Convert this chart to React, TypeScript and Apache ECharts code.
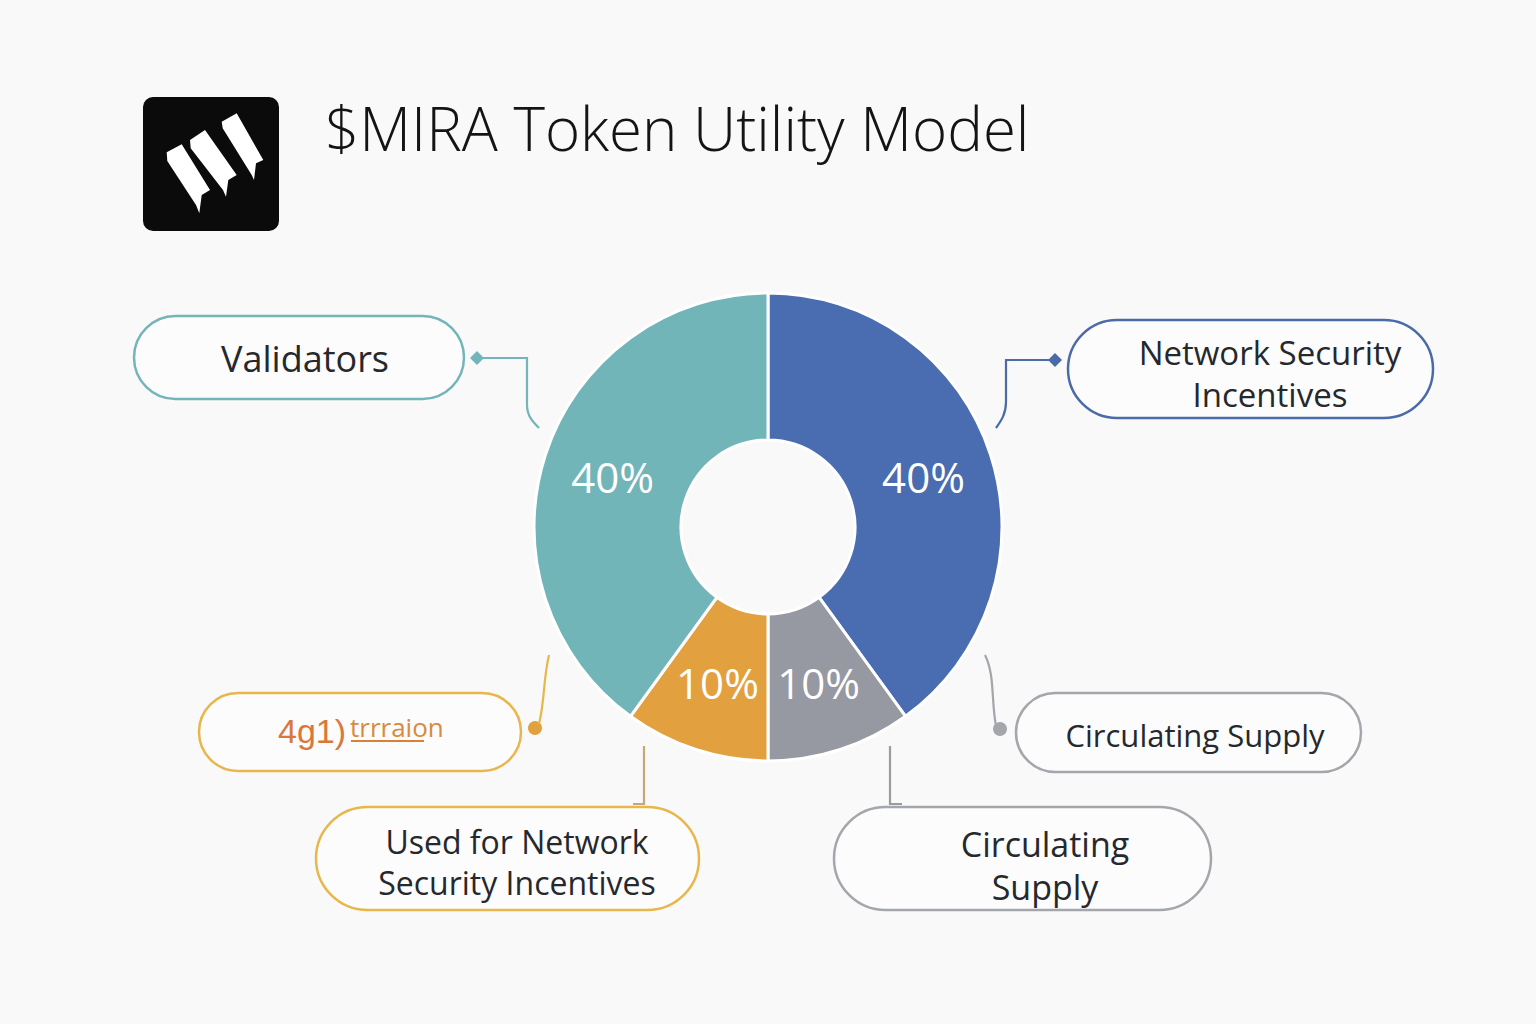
import React, { useEffect, useRef } from "react";
import * as echarts from "echarts";

const categories = ["Network Security Incentives", "Circulating Supply", "4g1) trrraion", "Validators"];
const values = [40, 10, 10, 40];
const sliceColors = ["#4a6cb0", "#9698a2", "#e3a03e", "#72b5b9"];
const boxBorderColors = ["#4b6aa8", "#a3a6ab", "#e8b74c", "#74b5b9"];
const blueLines = ["Network Security", "Incentives"];
const usedForLines = ["Used for Network", "Security Incentives"];
const circLines = ["Circulating", "Supply"];
const title = "$MIRA Token Utility Model";

const FONT = "'Open Sans', Lato, sans-serif";
const TEXT = "#25282c";

function box(x: number, y: number, w: number, h: number, stroke: string) {
  return {
    type: "rect",
    shape: { x, y, width: w, height: h, r: h / 2 },
    style: { fill: "rgba(255,255,255,0.5)", stroke, lineWidth: 2.5 },
  };
}

function label(x: number, y: number, text: string, size: number, fill = TEXT) {
  return {
    type: "text",
    x,
    y,
    style: {
      text,
      fill,
      fontSize: size,
      lineHeight: Math.round(size * 1.05),
      fontFamily: FONT,
      align: "center",
      verticalAlign: "middle",
    },
  };
}

function diamond(cx: number, cy: number, s: number, fill: string) {
  return {
    type: "polygon",
    shape: { points: [[cx - s, cy], [cx, cy - s], [cx + s, cy], [cx, cy + s]] },
    style: { fill },
  };
}

function line(points: number[][], stroke: string) {
  return {
    type: "polyline",
    shape: { points },
    style: { stroke, lineWidth: 2.2, fill: "none" },
  };
}

function curve(x1: number, y1: number, cpx1: number, cpy1: number, cpx2: number, cpy2: number, x2: number, y2: number, stroke: string) {
  return {
    type: "bezierCurve",
    shape: { x1, y1, cpx1, cpy1, cpx2, cpy2, x2, y2 },
    style: { stroke, lineWidth: 2.2, fill: "none" },
  };
}

function stripe(points: number[][]) {
  return { type: "polygon", shape: { points }, style: { fill: "#ffffff" } };
}

export default function App() {
  const ref = useRef<HTMLDivElement>(null);
  useEffect(() => {
    document.body.style.margin = "0";
    const chart = echarts.init(ref.current!, undefined, { renderer: "svg" });
    const [cBlue, cGray, cOrange, cTeal] = boxBorderColors;
    chart.setOption({
      animation: false,
      backgroundColor: "#f9f9f9",
      series: [
        {
          type: "pie",
          center: [768, 527],
          radius: [87, 234],
          startAngle: 90,
          clockwise: true,
          silent: true,
          data: categories.map((name, i) => ({ name, value: values[i], itemStyle: { color: sliceColors[i] } })),
          itemStyle: { borderColor: "#ffffff", borderWidth: 3 },
          label: {
            show: true,
            position: "inside",
            formatter: "{c}%",
            color: "#ffffff",
            fontSize: 42,
            fontFamily: FONT,
          },
          labelLine: { show: false },
          emphasis: { disabled: true },
        },
      ],
      graphic: [
        // logo
        {
          type: "rect",
          shape: { x: 143, y: 97, width: 136, height: 134, r: 10 },
          style: { fill: "#0b0b0c" },
        },
        stripe([[166.7, 152.3], [181.7, 144.3], [210, 190], [201.7, 195], [199.3, 213.3], [196, 205], [167.3, 161]]),
        stripe([[190, 140], [205, 130], [236.7, 175], [228.3, 180], [226, 196.7], [223, 190], [190.7, 148.3]]),
        stripe([[221.7, 121.7], [236.7, 113.3], [263.3, 160], [256, 163.3], [254, 180], [251.7, 175], [222.7, 128.3]]),
        {
          type: "text",
          x: 325,
          y: 128,
          style: {
            text: title,
            fill: "#141414",
            fontSize: 60,
            fontWeight: 300,
            fontFamily: FONT,
            align: "left",
            verticalAlign: "middle",
          },
        },
        // Validators
        box(134, 316, 330, 83, cTeal),
        label(305, 358, categories[3], 36),
        diamond(477, 358, 7, cTeal),
        line([[477, 358], [527, 358], [527, 405]], cTeal),
        curve(527, 405, 527, 416, 533, 422, 539, 428, cTeal),
        // Network Security Incentives
        box(1068, 320, 365, 98, cBlue),
        label(1270, 352, blueLines[0], 33),
        label(1270, 394, blueLines[1], 33),
        diamond(1055, 360, 7, cBlue),
        line([[1055, 360], [1006, 360], [1006, 402]], cBlue),
        curve(1006, 402, 1006, 414, 1001, 421, 996, 428, cBlue),
        // Orange box
        box(199, 693, 322, 78, cOrange),
        {
          type: "text",
          x: 278,
          y: 731,
          style: {
            text: "4g1)",
            fill: "#d9783a",
            fontSize: 34,
            fontFamily: "'Liberation Sans', sans-serif",
            align: "left",
            verticalAlign: "middle",
          },
        },
        {
          type: "text",
          x: 350,
          y: 727,
          style: {
            text: "trrraion",
            fill: "#d98a3c",
            fontSize: 26,
            fontFamily: FONT,
            align: "left",
            verticalAlign: "middle",
          },
        },
        line([[351, 741], [424, 741]], "#d9803a"),
        { type: "circle", shape: { cx: 535, cy: 728, r: 7 }, style: { fill: "#e3a03e" } },
        curve(539, 724, 545, 700, 543, 680, 549, 655, cOrange),
        // Used for Network Security Incentives
        box(316, 807, 383, 103, cOrange),
        label(517, 841, usedForLines[0], 32),
        label(517, 882, usedForLines[1], 32),
        line([[644, 746], [644, 804], [633, 804]], "#c9a67a"),
        // Circulating Supply
        box(1016, 693, 345, 79, cGray),
        label(1195, 735, categories[1], 31),
        { type: "circle", shape: { cx: 1000, cy: 729, r: 7 }, style: { fill: "#a3a6ab" } },
        curve(996, 726, 991, 700, 995, 675, 985, 655, cGray),
        // Circulating Supply lower
        box(834, 807, 377, 103, cGray),
        label(1045, 844, circLines[0], 34),
        label(1045, 887, circLines[1], 34),
        line([[890, 746], [890, 804], [902, 804]], "#9a9ca2"),
      ],
    });
    return () => chart.dispose();
  }, []);
  return <div ref={ref} style={{ position: "absolute", left: 0, top: 0, width: 1536, height: 1024 }} />;
}
